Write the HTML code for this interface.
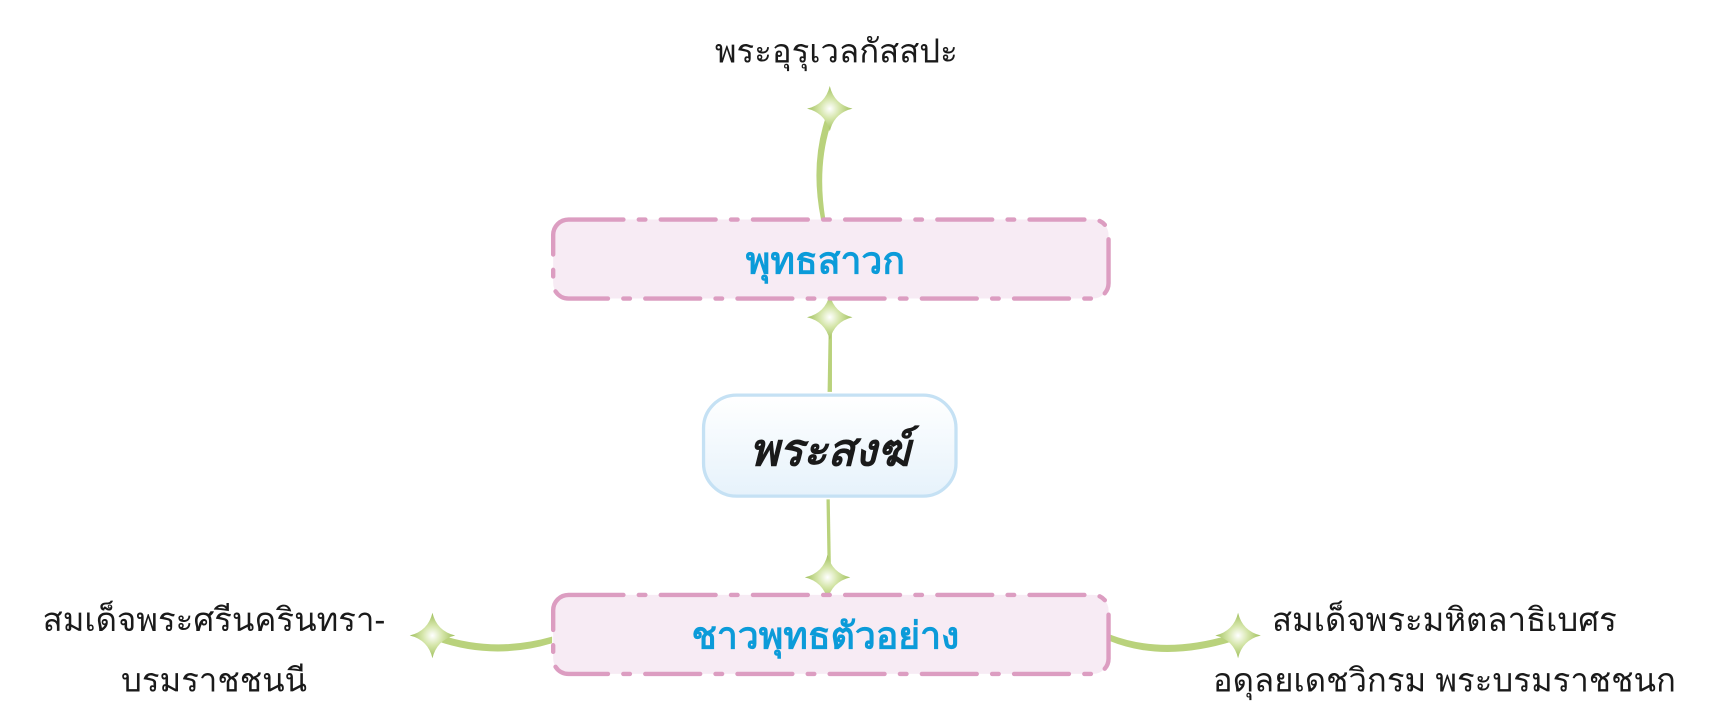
<!DOCTYPE html>
<html><head><meta charset="utf-8"><style>
body{margin:0;width:1721px;height:714px;background:#fff;overflow:hidden}
svg{display:block}
text{font-family:"Liberation Sans","Noto Sans CJK SC",sans-serif}
</style></head><body>
<svg width="1721" height="714" viewBox="0 0 1568 650.5" preserveAspectRatio="none" xmlns="http://www.w3.org/2000/svg">
<defs>
<radialGradient id="g" cx="50%" cy="50%" r="50%"><stop offset="0" stop-color="#ffffff"/><stop offset="0.45" stop-color="#d4e5a8"/><stop offset="1" stop-color="#9fbf5c"/></radialGradient>
<linearGradient id="cb" x1="0" y1="0" x2="0" y2="1"><stop offset="0" stop-color="#ffffff"/><stop offset="1" stop-color="#e6f2fb"/></linearGradient>
<symbol id="star" viewBox="-20 -20 40 40" overflow="visible"><path d="M0,-18 Q3.5,-3.5 18,0 Q3.5,3.5 0,18 Q-3.5,3.5 -18,0 Q-3.5,-3.5 0,-18Z" fill="url(#g)"/></symbol>
</defs>
<path d="M748,200 Q738,150 752,108 L758,110 Q744,150 752,200Z" fill="#b9d27c"/>
<path d="M754,357 L755,300 L758,300 L758,357Z" fill="#b9d27c"/>
<path d="M753,455 L756,455 L757,515 L754,515Z" fill="#b9d27c"/>
<path d="M503,580 Q450,595 400,578 L398,584 Q450,602 503,586Z" fill="#b9d27c"/>
<path d="M1011,578 Q1060,597 1122,578 L1124,584 Q1060,604 1011,584Z" fill="#b9d27c"/>
<use href="#star" x="733" y="76" width="46" height="46"/>
<use href="#star" x="733" y="266" width="46" height="46"/>
<use href="#star" x="731" y="503" width="46" height="46"/>
<use href="#star" x="371" y="556" width="46" height="46"/>
<use href="#star" x="1105" y="556" width="46" height="46"/>
<rect x="504" y="200" width="506" height="72" rx="14" fill="#f7ebf4" stroke="#dc9dc1" stroke-width="4" stroke-dasharray="50,14,6,14" stroke-linecap="round"/>
<text x="752" y="249" font-size="34" font-weight="bold" fill="#0b9bd9" text-anchor="middle">พุทธสาวก</text>
<rect x="504" y="542" width="506" height="72" rx="14" fill="#f7ebf4" stroke="#dc9dc1" stroke-width="4" stroke-dasharray="50,14,6,14" stroke-linecap="round"/>
<text x="752" y="591" font-size="34" font-weight="bold" fill="#0b9bd9" text-anchor="middle">ชาวพุทธตัวอย่าง</text>
<rect x="641" y="360" width="230" height="92" rx="30" fill="url(#cb)" stroke="#c5e1f4" stroke-width="3"/>
<text x="756" y="424" font-size="41" font-weight="bold" font-style="italic" fill="#1a1a1a" text-anchor="middle" font-family="Liberation Serif,serif">พระสงฆ์</text>
<text x="762" y="57" font-size="30" fill="#1a1a1a" text-anchor="middle">พระอุรุเวลกัสสปะ</text>
<text x="195" y="575" font-size="30" fill="#1a1a1a" text-anchor="middle">สมเด็จพระศรีนครินทรา-</text>
<text x="195" y="630" font-size="30" fill="#1a1a1a" text-anchor="middle">บรมราชชนนี</text>
<text x="1316" y="575" font-size="30" fill="#1a1a1a" text-anchor="middle">สมเด็จพระมหิตลาธิเบศร</text>
<text x="1316" y="630" font-size="30" fill="#1a1a1a" text-anchor="middle">อดุลยเดชวิกรม  พระบรมราชชนก</text>
</svg>
</body></html>
